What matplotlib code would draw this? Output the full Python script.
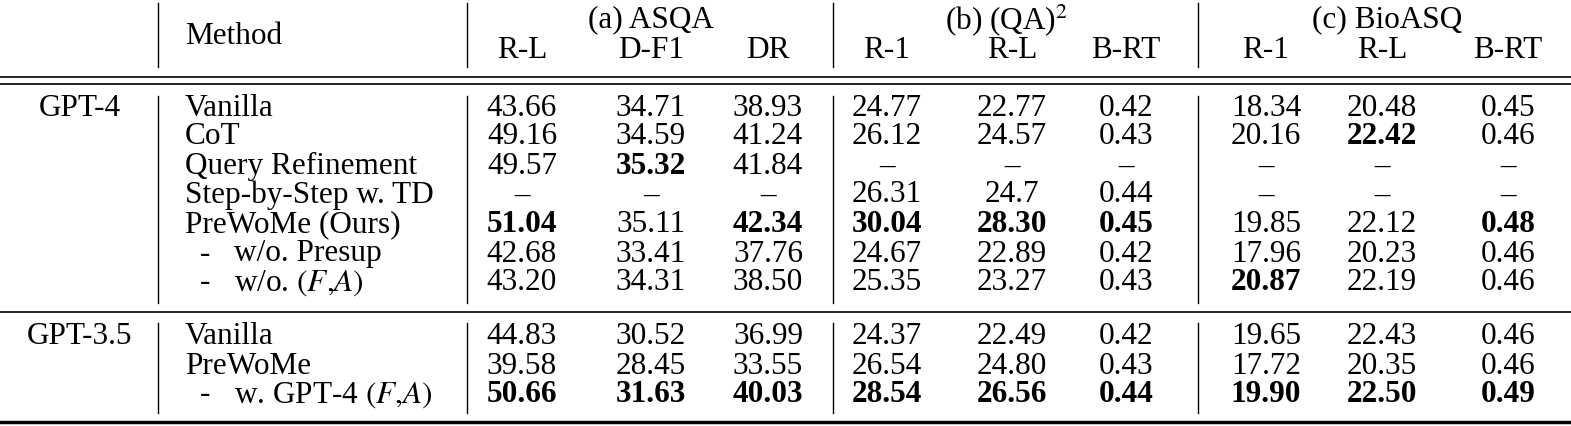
import matplotlib
matplotlib.use("Agg")
import matplotlib.pyplot as plt

plt.rcParams['font.family'] = ['Liberation Serif', 'DejaVu Serif']
plt.rcParams['mathtext.fontset'] = 'stix'

groups = ["(a) ASQA", "(b) (QA)$^2$", "(c) BioASQ"]
metrics = ["R-L", "D-F1", "DR", "R-1", "R-L", "B-RT", "R-1", "R-L", "B-RT"]
models = ["GPT-4", "GPT-3.5"]
methods4 = ["Vanilla", "CoT", "Query Refinement", "Step-by-Step w. TD", "PreWoMe (Ours)",
            "-w/o. Presup", "-w/o. $(F{,}A)$"]
methods35 = ["Vanilla", "PreWoMe", "-w. GPT-4 $(F{,}A)$"]
vals4 = [
    ["43.66", "34.71", "38.93", "24.77", "22.77", "0.42", "18.34", "20.48", "0.45"],
    ["49.16", "34.59", "41.24", "26.12", "24.57", "0.43", "20.16", "*22.42", "0.46"],
    ["49.57", "*35.32", "41.84", "–", "–", "–", "–", "–", "–"],
    ["–", "–", "–", "26.31", "24.7", "0.44", "–", "–", "–"],
    ["*51.04", "35.11", "*42.34", "*30.04", "*28.30", "*0.45", "19.85", "22.12", "*0.48"],
    ["42.68", "33.41", "37.76", "24.67", "22.89", "0.42", "17.96", "20.23", "0.46"],
    ["43.20", "34.31", "38.50", "25.35", "23.27", "0.43", "*20.87", "22.19", "0.46"],
]
vals35 = [
    ["44.83", "30.52", "36.99", "24.37", "22.49", "0.42", "19.65", "22.43", "0.46"],
    ["39.58", "28.45", "33.55", "26.54", "24.80", "0.43", "17.72", "20.35", "0.46"],
    ["*50.66", "*31.63", "*40.03", "*28.54", "*26.56", "*0.44", "*19.90", "*22.50", "*0.49"],
]

W, H = 1571, 426
fig = plt.figure(figsize=(W/100, H/100), dpi=100)
ax = fig.add_axes([0, 0, 1, 1])
ax.set_xlim(0, W); ax.set_ylim(H, 0); ax.axis('off')
fs = 22.5
colx = [522, 651, 768, 887, 1012, 1126, 1266, 1382, 1508]
gx = [651, 1007, 1387]

for g, x in zip(groups, gx):
    ax.text(x, 20, g, ha='center', va='center', fontsize=fs)
for m, x in zip(metrics, colx):
    ax.text(x, 51, m, ha='center', va='center', fontsize=fs)
ax.text(185, 36, "Method", ha='left', va='center', fontsize=fs)

def row(y, cells):
    for c, x in zip(cells, colx):
        bold = c.startswith("*")
        ax.text(x, y, c.lstrip("*"), ha='center', va='center', fontsize=fs,
                fontweight='bold' if bold else 'normal')

def method(y, m):
    if m.startswith("-"):
        ax.text(200, y, "-", ha='left', va='center', fontsize=fs)
        ax.text(234, y, m[1:], ha='left', va='center', fontsize=fs)
    else:
        ax.text(185, y, m, ha='left', va='center', fontsize=fs)

ys4 = [108, 137, 166, 195, 225, 254, 283]
ys35 = [337, 366, 395]
ax.text(80, ys4[0], models[0], ha='center', va='center', fontsize=fs)
ax.text(80, ys35[0], models[1], ha='center', va='center', fontsize=fs)
for y, m, v in zip(ys4, methods4, vals4):
    method(y, m); row(y, v)
for y, m, v in zip(ys35, methods35, vals35):
    method(y, m); row(y, v)

ax.plot([0, W], [77, 77], color='k', lw=1.2)
ax.plot([0, W], [84, 84], color='k', lw=1.2)
ax.plot([0, W], [312, 312], color='k', lw=1.2)
ax.plot([0, W], [422, 422], color='k', lw=2.5)
for x in [158, 467, 833, 1198]:
    for y0, y1 in [(3, 67), (96, 303), (323, 413)]:
        ax.plot([x, x], [y0, y1], color='k', lw=1)

fig.savefig("out.png", dpi=100)
